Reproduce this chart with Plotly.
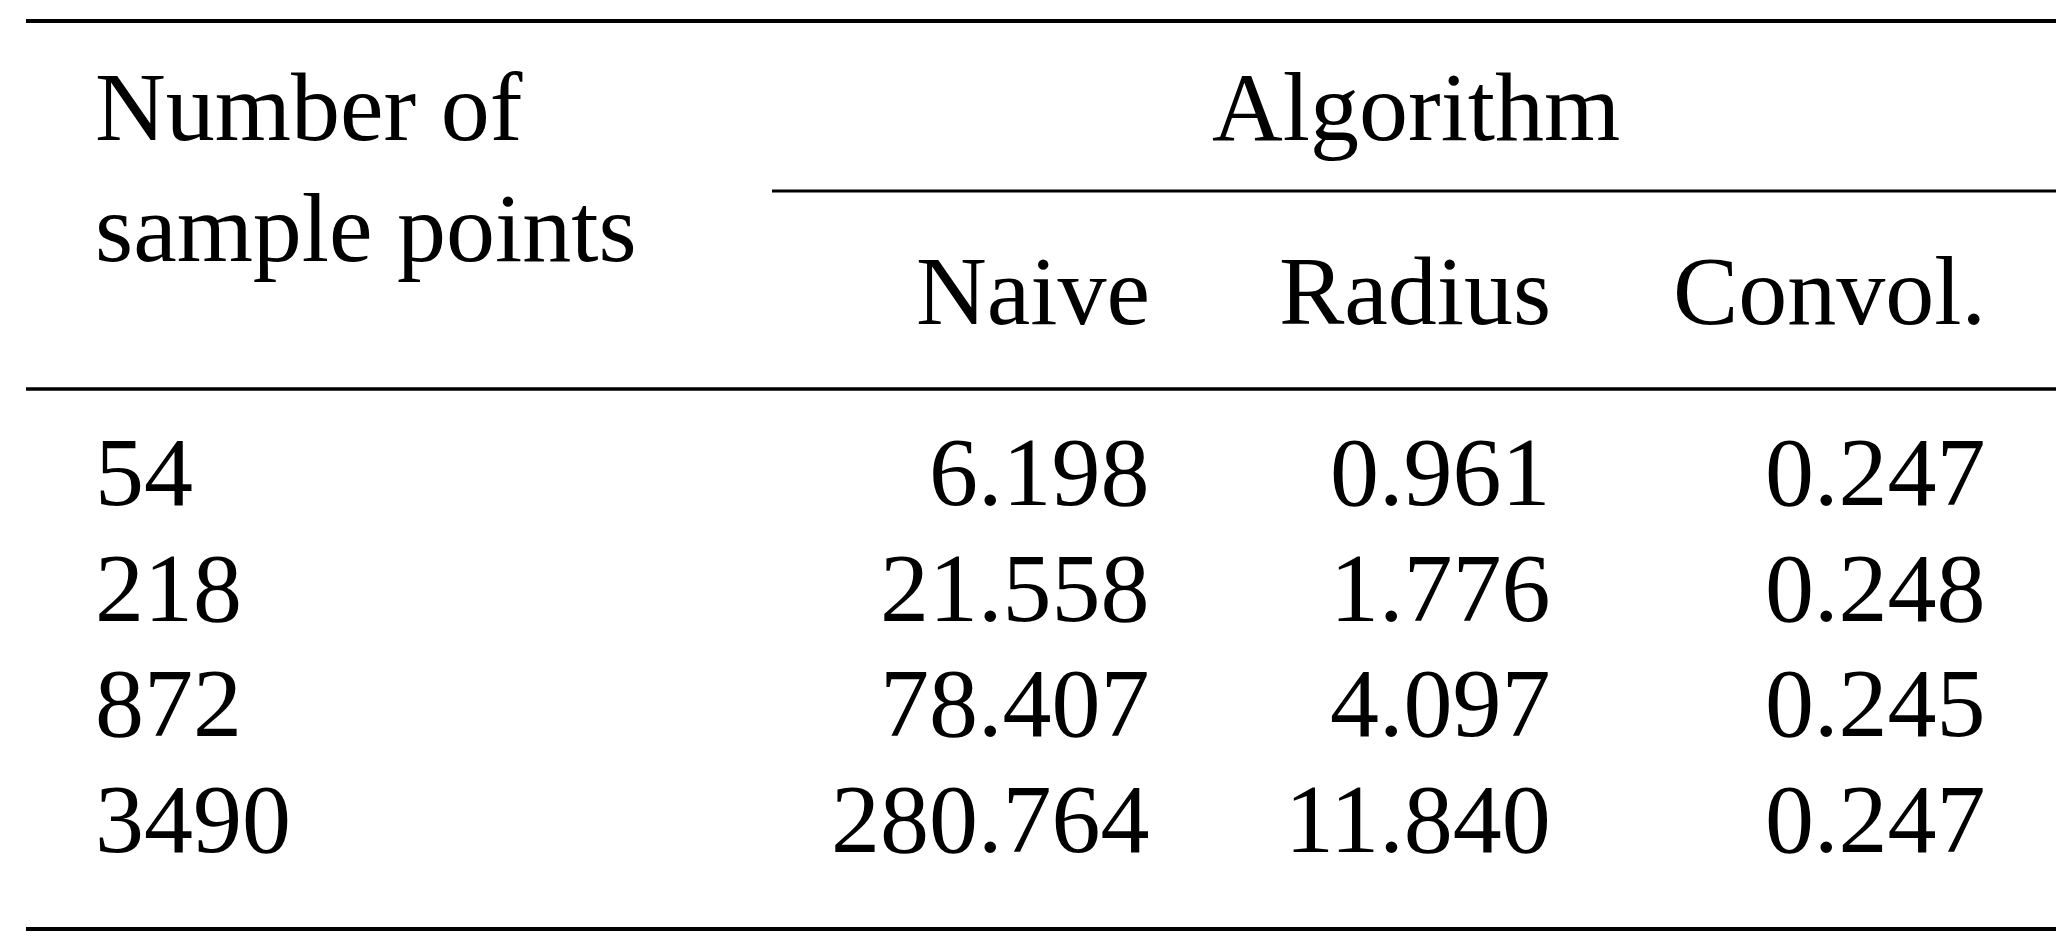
import plotly.graph_objects as go

samples = ["54", "218", "872", "3490"]
naive = ["6.198", "21.558", "78.407", "280.764"]
radius = ["0.961", "1.776", "4.097", "11.840"]
convol = ["0.247", "0.248", "0.245", "0.247"]
col_headers = ["Naive", "Radius", "Convol."]

W, H = 2067, 937
FONT = dict(family="Liberation Serif, Times New Roman, serif", size=98, color="black")

fig = go.Figure()
fig.update_layout(
    width=W, height=H, margin=dict(l=0, r=0, t=0, b=0),
    paper_bgcolor="white", plot_bgcolor="white", showlegend=False,
    xaxis=dict(range=[0, W], visible=False, fixedrange=True),
    yaxis=dict(range=[H, 0], visible=False, fixedrange=True),
)

# booktabs rules
for y, x0, w in [(13, 18, 4), (183, 764, 3), (381, 18, 3.5), (921, 18, 4)]:
    fig.add_shape(type="line", x0=x0, x1=2048, y0=y, y1=y, line=dict(color="black", width=w))

def txt(x, y, s, anchor):
    fig.add_annotation(x=x, y=y, text=s, showarrow=False, xanchor=anchor,
                       yanchor="middle", font=FONT)

txt(85, 99, "Number of", "left")
txt(85, 220, "sample points", "left")
txt(1408, 99, "Algorithm", "center")

right_edges = [1144, 1545, 1980]
for x, h in zip(right_edges, col_headers):
    txt(x, 283, h, "right")

row_y = [464, 580, 695, 811]
for i, y in enumerate(row_y):
    txt(85, y, samples[i], "left")
    for x, col in zip(right_edges, [naive, radius, convol]):
        txt(x, y, col[i], "right")

fig.write_html("out.html")
